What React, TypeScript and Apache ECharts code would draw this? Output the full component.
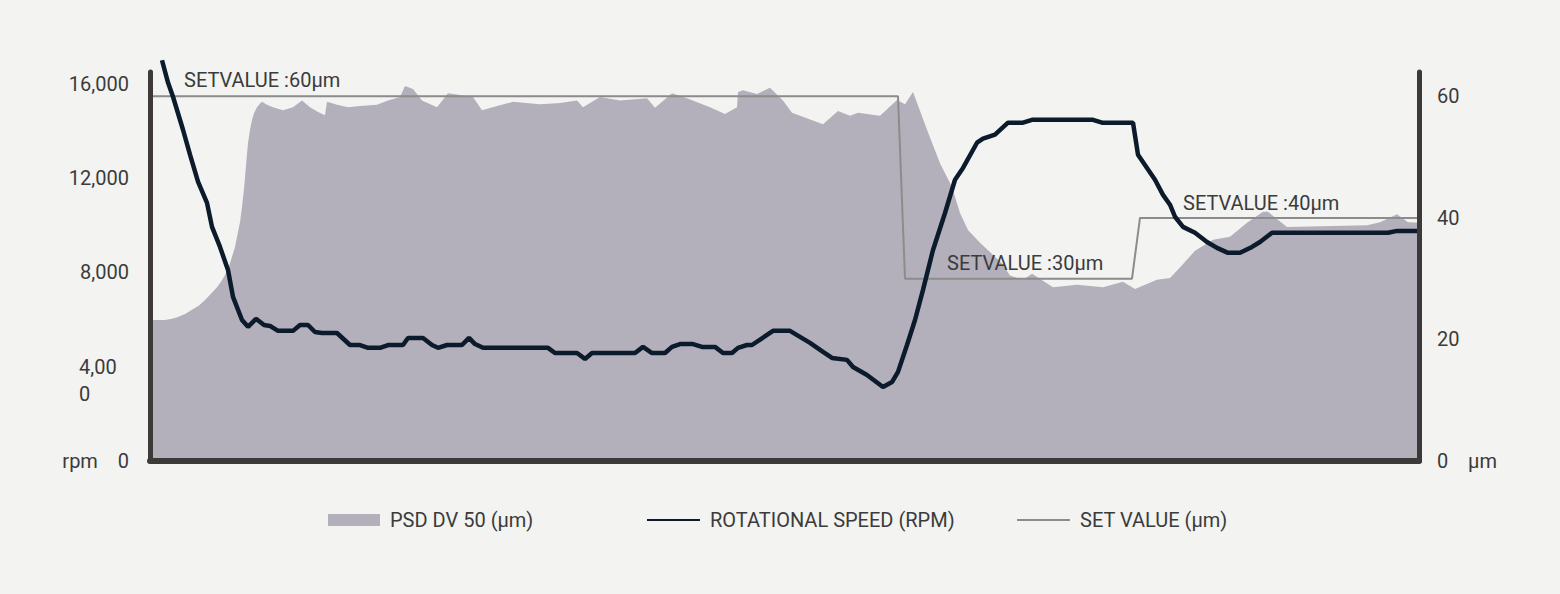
import React, { useEffect, useRef } from 'react';
import * as echarts from 'echarts';

// Rotational speed (rpm), left axis
const speedX = [1.2, 1.8, 2.3, 3.3, 4.0, 4.8, 5.7, 6.2, 7.0, 7.8, 8.3, 9.2, 9.8, 10.6, 11.4, 12.0, 12.8, 14.3, 15.0, 15.8, 16.5, 17.2, 18.7, 20.0, 21.0, 21.8, 23.0, 23.8, 25.3, 25.8, 27.3, 28.2, 28.8, 29.7, 31.2, 31.9, 32.5, 33.3, 39.8, 40.5, 42.7, 43.5, 44.2, 48.5, 49.3, 50.2, 51.5, 52.2, 53.0, 54.3, 55.2, 56.5, 57.3, 58.2, 58.8, 59.7, 60.2, 62.3, 64.0, 66.0, 67.3, 68.2, 69.7, 70.3, 71.7, 73.3, 74.2, 74.8, 75.7, 76.5, 77.3, 78.3, 79.5, 80.5, 81.3, 82.7, 83.3, 84.5, 85.8, 87.3, 88.2, 94.3, 95.2, 98.3, 98.8, 99.7, 100.5, 101.3, 102.0, 102.5, 103.3, 104.5, 105.7, 106.7, 107.8, 109.0, 110.2, 111.0, 112.2, 123.8, 124.7, 126.9];
const speedRpm = [17000, 16050, 15450, 14050, 13000, 11850, 10950, 9930, 9080, 8100, 6960, 5980, 5690, 6030, 5770, 5730, 5520, 5520, 5770, 5770, 5470, 5430, 5430, 4920, 4920, 4800, 4800, 4920, 4920, 5220, 5220, 4920, 4800, 4920, 4920, 5220, 4960, 4800, 4800, 4580, 4580, 4330, 4580, 4580, 4840, 4580, 4580, 4840, 4960, 4960, 4840, 4840, 4580, 4580, 4800, 4920, 4920, 5520, 5520, 5010, 4630, 4370, 4290, 3990, 3650, 3140, 3350, 3780, 4920, 5980, 7260, 8950, 10520, 11930, 12430, 13500, 13670, 13840, 14350, 14350, 14470, 14470, 14350, 14350, 12990, 12430, 11930, 11290, 10870, 10360, 9930, 9680, 9290, 9040, 8830, 8830, 9080, 9290, 9680, 9680, 9760, 9760];

// PSD DV 50 (µm), right axis
const psdX = [0, 0.8, 1.5, 2.2, 2.8, 3.5, 4.2, 4.9, 5.5, 6.1, 6.7, 7.1, 7.5, 7.9, 8.2, 8.5, 8.7, 9.0, 9.2, 9.4, 9.5, 9.7, 9.8, 10.0, 10.2, 10.4, 10.7, 11.0, 11.2, 11.7, 12.3, 13.3, 14.3, 15.2, 16.0, 16.8, 17.5, 17.7, 18.7, 19.8, 21.0, 22.7, 23.8, 25.0, 25.5, 26.3, 27.2, 28.7, 29.8, 32.3, 33.2, 36.3, 39.0, 41.0, 42.7, 43.3, 45.0, 47.0, 49.7, 50.5, 52.2, 53.7, 56.0, 57.5, 58.7, 58.8, 59.3, 60.7, 62.0, 63.3, 64.2, 67.3, 68.8, 70.0, 70.8, 73.0, 74.7, 75.5, 76.3, 77.7, 79.0, 80.2, 81.0, 81.8, 83.0, 84.5, 85.2, 86.0, 87.3, 88.2, 90.3, 92.7, 95.3, 97.3, 98.5, 100.7, 102.0, 103.2, 104.5, 106.3, 108.0, 109.7, 111.3, 111.8, 113.7, 121.7, 123.0, 124.7, 125.8, 126.9];
const psdUm = [23.2, 23.2, 23.2, 23.4, 23.7, 24.2, 24.9, 25.6, 26.5, 27.5, 28.6, 29.5, 30.6, 32.0, 33.6, 35.2, 36.9, 39.3, 41.8, 44.8, 46.7, 50.5, 52.3, 54.5, 56.1, 57.2, 58.2, 58.8, 59.1, 58.6, 58.2, 57.7, 58.2, 59.3, 58.2, 57.4, 56.9, 59.1, 58.6, 58.2, 58.4, 58.6, 59.3, 59.9, 61.7, 61.2, 59.3, 58.2, 60.5, 59.9, 57.7, 59.1, 58.7, 58.9, 59.3, 58.2, 59.9, 59.3, 59.7, 58.1, 60.5, 59.7, 58.2, 57.1, 58.2, 60.7, 61.0, 60.4, 61.4, 59.3, 57.3, 55.4, 57.6, 56.8, 57.3, 56.8, 59.4, 58.7, 60.7, 54.5, 49.0, 45.1, 40.8, 38.0, 35.9, 33.6, 32.5, 30.5, 29.8, 30.8, 28.6, 29.0, 28.6, 29.5, 28.3, 29.8, 30.1, 32.2, 34.6, 36.4, 36.9, 39.2, 41.0, 41.0, 38.5, 38.8, 39.3, 40.6, 39.3, 39.2];

// Set value (µm), right axis
const setX = [0, 74.8, 75.5, 98.2, 99.0, 126.9];
const setUm = [60, 60, 30, 30, 40, 40];

const seriesNames = ['PSD DV 50 (µm)', 'ROTATIONAL SPEED (RPM)', 'SET VALUE (µm)'];
const annotationTexts = ['SETVALUE :60µm', 'SETVALUE :30µm', 'SETVALUE :40µm'];
const annotationAt = [[3.4, 62.7], [79.7, 32.6], [103.3, 42.4]];

const BG = '#f3f3f1';
const AREA = '#b3b0bb';
const NAVY = '#0b1b2b';
const GRAY = '#8c8c8c';
const AXIS = '#3d3939';
const TEXT = '#3b3b3b';
const FONT = 'Roboto, "Noto Sans", sans-serif';

const zip = (xs: number[], ys: number[]) => xs.map((x, i) => [x, ys[i]]);

export default function App() {
  const ref = useRef<HTMLDivElement>(null);
  useEffect(() => {
    const chart = echarts.init(ref.current!, null, { renderer: 'svg' });
    const legendText = { fontSize: 20, color: TEXT, fontFamily: FONT, padding: [0, 0, 0, 5] };
    chart.setOption({
      animation: false,
      backgroundColor: BG,
      textStyle: { fontFamily: FONT },
      grid: { left: 150, right: 141, top: 72, bottom: 133 },
      xAxis: {
        type: 'value',
        min: 0,
        max: 126.9,
        z: 10,
        axisLine: { show: true, lineStyle: { color: AXIS, width: 6 } },
        axisTick: { show: false },
        axisLabel: { show: false },
        splitLine: { show: false },
      },
      yAxis: [
        {
          type: 'value',
          min: 0,
          max: 16500,
          interval: 4000,
          position: 'left',
          z: 10,
          axisLine: { show: true, onZero: false, lineStyle: { color: AXIS, width: 5 } },
          axisTick: { show: false },
          splitLine: { show: false },
          axisLabel: {
            showMaxLabel: false,
            margin: 21,
            fontSize: 20,
            color: TEXT,
            fontFamily: FONT,
            formatter: (v: number) => {
              if (v === 0) return 'rpm    0';
              if (v === 4000) return '{e| }\n{b|4,00}\n{b|0}';
              return v.toLocaleString('en-US');
            },
            rich: {
              e: { lineHeight: 27, fontSize: 20 },
              b: { width: 50, align: 'left', lineHeight: 27, fontSize: 20, color: TEXT, fontFamily: FONT },
            },
          },
        },
        {
          type: 'value',
          min: 0,
          max: 64,
          interval: 20,
          position: 'right',
          z: 10,
          axisLine: { show: true, onZero: false, lineStyle: { color: AXIS, width: 5 } },
          axisTick: { show: false },
          splitLine: { show: false },
          axisLabel: {
            showMaxLabel: false,
            margin: 18,
            fontSize: 20,
            color: TEXT,
            fontFamily: FONT,
            formatter: (v: number) => (v === 0 ? '0    µm' : String(v)),
          },
        },
      ],
      legend: [
        {
          left: 328, top: 510, padding: 0, icon: 'rect', itemWidth: 52, itemHeight: 12, selectedMode: false,
          data: [{ name: seriesNames[0], itemStyle: { color: AREA } }],
          textStyle: legendText,
        },
        {
          left: 647, top: 510, padding: 0, icon: 'rect', itemWidth: 53, itemHeight: 2, selectedMode: false,
          data: [{ name: seriesNames[1], itemStyle: { color: NAVY } }],
          textStyle: legendText,
        },
        {
          left: 1017, top: 510, padding: 0, icon: 'rect', itemWidth: 53, itemHeight: 2, selectedMode: false,
          data: [{ name: seriesNames[2], itemStyle: { color: GRAY } }],
          textStyle: legendText,
        },
      ],
      series: [
        {
          name: seriesNames[0],
          type: 'line',
          yAxisIndex: 1,
          data: zip(psdX, psdUm),
          symbol: 'none',
          itemStyle: { color: AREA },
          lineStyle: { width: 0, color: AREA },
          areaStyle: { color: AREA, opacity: 1 },
          z: 1,
        },
        {
          name: seriesNames[2],
          type: 'line',
          yAxisIndex: 1,
          data: zip(setX, setUm),
          symbol: 'none',
          itemStyle: { color: GRAY },
          lineStyle: { width: 2, color: GRAY },
          z: 2,
          markPoint: {
            silent: true,
            symbol: 'circle',
            symbolSize: 0,
            label: {
              show: true,
              position: 'right',
              distance: 0,
              formatter: '{b}',
              fontSize: 20,
              color: TEXT,
              fontFamily: FONT,
            },
            data: annotationTexts.map((t, i) => ({ name: t, coord: annotationAt[i] })),
          },
        },
        {
          name: seriesNames[1],
          type: 'line',
          yAxisIndex: 0,
          data: zip(speedX, speedRpm),
          symbol: 'none',
          clip: false,
          itemStyle: { color: NAVY },
          lineStyle: { width: 4.5, color: NAVY },
          z: 3,
        },
      ],
    });
    return () => chart.dispose();
  }, []);
  return <div ref={ref} style={{ position: 'fixed', left: 0, top: 0, width: 1560, height: 594 }} />;
}
